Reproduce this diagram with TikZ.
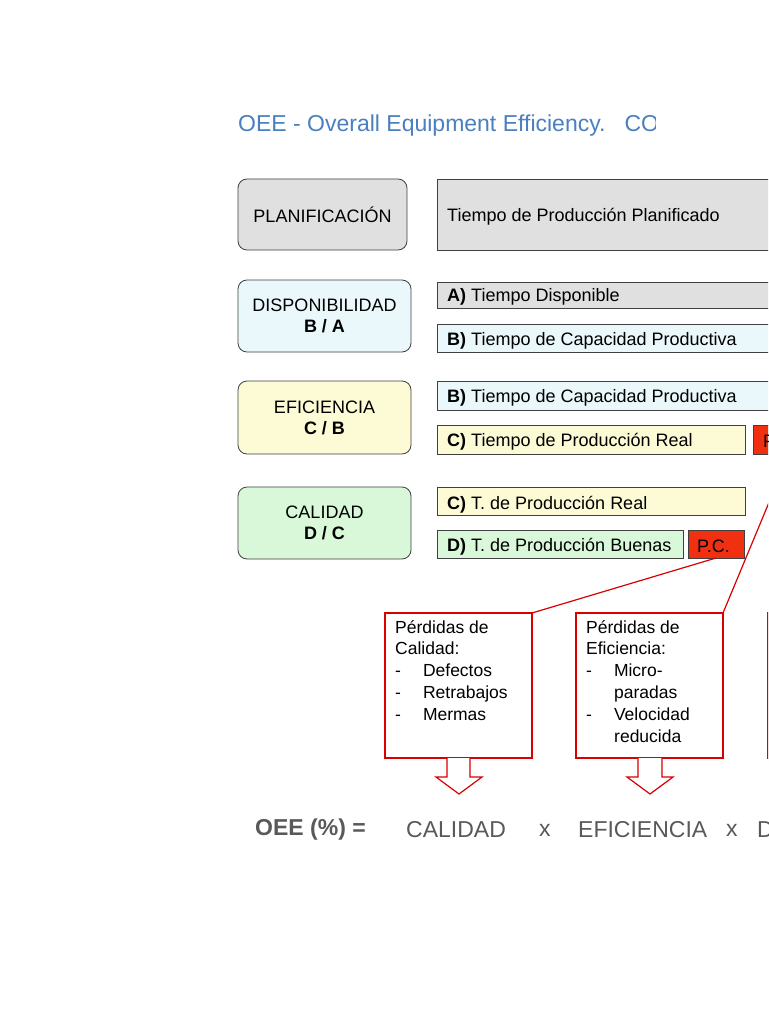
\documentclass[tikz,border=0pt]{standalone}
\usepackage{fontspec}
\setmainfont{Liberation Sans}
\begin{document}
\begin{tikzpicture}[x=1pt,y=-1pt,
  lbl/.style={draw=black!75,line width=0.8pt,rounded corners=9pt,align=center,font=\fontsize{18}{21}\selectfont},
  bar/.style={draw=black!75,line width=0.8pt},
  bt/.style={anchor=west,font=\fontsize{18}{20}\selectfont,inner sep=0pt},
  loss/.style={draw=red!85!black,line width=1.2pt},
  lt/.style={anchor=north west,align=left,font=\fontsize{17.5}{21.8}\selectfont,inner sep=0pt},
  rl/.style={red!85!black,line width=1.2pt}]
\definecolor{gr}{HTML}{E0E0E0}\definecolor{cy}{HTML}{EAF8FC}
\definecolor{ye}{HTML}{FDFBD5}\definecolor{gn}{HTML}{D9F7D9}\definecolor{rd}{HTML}{F03010}
\useasboundingbox (0,0) rectangle (768,1024);
\fill[white] (0,0) rectangle (768,1024);
\begin{scope}
\clip (0,0) rectangle (655,200);
\node[anchor=west,font=\fontsize{23}{26}\selectfont,inner sep=0pt,text={rgb,255:red,74;green,127;blue,192}] (title) at (238,126) {OEE - Overall Equipment Efficiency.\ \ \ COMPONENTES};
\end{scope}
\clip (0,0) rectangle (768,1024);
% left labels
\node[lbl,fill=gr,minimum width=169pt,minimum height=71pt] (plan) at (322.5,214.5) {PLANIFICACIÓN};
\node[lbl,fill=cy,minimum width=173pt,minimum height=72pt] (disp) at (324.5,316) {DISPONIBILIDAD\\\textbf{B / A}};
\node[lbl,fill=ye,minimum width=173pt,minimum height=73pt] (efi) at (324.5,417.5) {EFICIENCIA\\\textbf{C / B}};
\node[lbl,fill=gn,minimum width=173pt,minimum height=72pt] (cal) at (324.5,523) {CALIDAD\\\textbf{D / C}};
% bars
\draw[bar,fill=gr] (437,179) rectangle (800,250);
\node[bt] (tp) at (447,216.5) {Tiempo de Producción Planificado};
\draw[bar,fill=gr] (437,282) rectangle (800,308);
\node[bt] (ta) at (447,296.5) {\textbf{A)} Tiempo Disponible};
\draw[bar,fill=cy] (437,324) rectangle (800,352);
\node[bt] (tb) at (447,340.5) {\textbf{B)} Tiempo de Capacidad Productiva};
\draw[bar,fill=cy] (437,381) rectangle (800,410);
\node[bt] (tb2) at (447,397.5) {\textbf{B)} Tiempo de Capacidad Productiva};
\draw[bar,fill=ye] (437,425) rectangle (745,454);
\node[bt] (tc) at (447,441.5) {\textbf{C)} Tiempo de Producción Real};
\draw[bar,fill=rd] (753,425) rectangle (800,454);
\node[bt] (pe) at (763,441.5) {P.E.};
\draw[bar,fill=ye] (437,487) rectangle (745,515);
\node[bt] (tc2) at (447,504.5) {\textbf{C)} T. de Producción Real};
\draw[bar,fill=gn] (437,530) rectangle (683,558);
\node[bt] (td) at (447,546.5) {\textbf{D)} T. de Producción Buenas};
\draw[bar,fill=rd] (688,530) rectangle (744,558);
\node[bt] (pc) at (697,546.5) {P.C.};
\coordinate (pcb) at (716,558);
\coordinate (peb) at (770,500);
% loss boxes
\draw[loss] (385,613) rectangle (532,758);
\node[lt] (lc) at (395,620) {Pérdidas de\\Calidad:\\-\hspace{22pt}Defectos\\-\hspace{22pt}Retrabajos\\-\hspace{22pt}Mermas};
\draw[loss] (576,613) rectangle (723,758);
\node[lt] (le) at (586,620) {Pérdidas de\\Eficiencia:\\-\hspace{22pt}Micro-\\\hspace{28pt}paradas\\-\hspace{22pt}Velocidad\\\hspace{28pt}reducida};
\draw[loss] (768,613) rectangle (915,758);
\coordinate (lcc) at (532,613);\coordinate (lec) at (723,613);
\draw[rl] (pcb) -- (lcc);
\draw[rl] (peb) -- (lec);
% hollow arrows
\draw[rl,fill=white,line join=miter] (447,758) -- (447,777) -- (436,777) -- (459,794) -- (482,777) -- (470,777) -- (470,758);
\draw[rl,fill=white,line join=miter] (638,758) -- (638,777) -- (627,777) -- (650,794) -- (673,777) -- (662,777) -- (662,758);
% formula
\begin{scope}[every node/.style={anchor=west,inner sep=0pt,text=black!65,font=\fontsize{23}{26}\selectfont}]
\node (f0) at (255,830) {\textbf{OEE (\%) =}};
\node (f1) at (406,830) {CALIDAD};
\node (f2) at (539,830) {x};
\node (f3) at (578,830) {EFICIENCIA};
\node (f4) at (726,830) {x};
\node (f5) at (757,830) {DISPONIBILIDAD};
\end{scope}
\end{tikzpicture}
\end{document}
